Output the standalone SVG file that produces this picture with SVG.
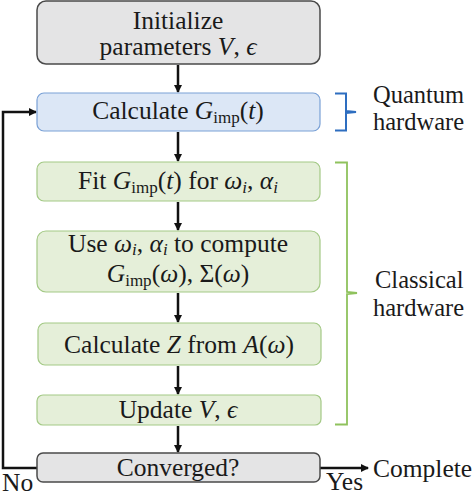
<svg xmlns="http://www.w3.org/2000/svg" width="474" height="496" viewBox="0 0 474 496">
<style>
text{font-family:"Liberation Serif","Times New Roman",Tinos,"Nimbus Roman","DejaVu Serif",serif;font-size:25.5px;fill:#1a1a1a}
.c{text-anchor:middle}
.i{font-style:italic}
.s{font-size:17px}
.side{font-size:24.5px}
.gray{fill:#e4e4e5;stroke:#4a4a4a;stroke-width:1.5}
.blue{fill:#dce7f6;stroke:#7aa1d6;stroke-width:1.2}
.green{fill:#e5efd9;stroke:#a3c985;stroke-width:1.2}
.conn{fill:none;stroke:#111;stroke-width:2.5}
</style>
<defs>
<marker id="ah" markerWidth="8" markerHeight="8" refX="7" refY="4" orient="auto" markerUnits="userSpaceOnUse">
<path d="M0,0 L8,4 L0,8 Z" fill="#111"/>
</marker>
</defs>
<g id="connectors">
<line class="conn" x1="178" y1="65" x2="178" y2="92" marker-end="url(#ah)"/>
<line class="conn" x1="178" y1="132" x2="178" y2="161" marker-end="url(#ah)"/>
<line class="conn" x1="178" y1="202" x2="178" y2="230" marker-end="url(#ah)"/>
<line class="conn" x1="178" y1="293" x2="178" y2="322" marker-end="url(#ah)"/>
<line class="conn" x1="178" y1="366" x2="178" y2="394" marker-end="url(#ah)"/>
<line class="conn" x1="178" y1="426" x2="178" y2="452" marker-end="url(#ah)"/>
<polyline class="conn" points="37,468 3,468 3,112 36,112" marker-end="url(#ah)"/>
<line class="conn" x1="320" y1="468" x2="368" y2="468" marker-end="url(#ah)"/>
</g>
<g id="init">
<rect class="gray" x="37" y="1" width="283" height="63" rx="9"/>
<text class="c" x="178" y="29">Initialize</text>
<text class="c" x="178" y="55">parameters <tspan class="i">V</tspan>, <tspan class="i">ϵ</tspan></text>
</g>
<g id="calcG">
<rect class="blue" x="37" y="93" width="283" height="38" rx="7"/>
<text class="c" x="178" y="119">Calculate <tspan class="i">G</tspan><tspan class="s" dy="4">imp</tspan><tspan dy="-4">(</tspan><tspan class="i">t</tspan>)</text>
</g>
<g id="fit">
<rect class="green" x="37" y="162" width="283" height="39" rx="7"/>
<text class="c" x="178" y="189">Fit <tspan class="i">G</tspan><tspan class="s" dy="4">imp</tspan><tspan dy="-4">(</tspan><tspan class="i">t</tspan>) for <tspan class="i">ω</tspan><tspan class="s i" dy="4">i</tspan><tspan dy="-4">, </tspan><tspan class="i">α</tspan><tspan class="s i" dy="4">i</tspan></text>
</g>
<g id="use">
<rect class="green" x="37" y="231" width="283" height="61" rx="9"/>
<text class="c" x="178" y="252">Use <tspan class="i">ω</tspan><tspan class="s i" dy="3">i</tspan><tspan dy="-3">, </tspan><tspan class="i">α</tspan><tspan class="s i" dy="3">i</tspan><tspan dy="-3"> to compute</tspan></text>
<text class="c" x="178" y="282"><tspan class="i">G</tspan><tspan class="s" dy="4">imp</tspan><tspan dy="-4">(</tspan><tspan class="i">ω</tspan>), Σ(<tspan class="i">ω</tspan>)</text>
</g>
<g id="calcZ">
<rect class="green" x="38" y="323" width="283" height="42" rx="7"/>
<text class="c" x="179" y="353">Calculate <tspan class="i">Z</tspan> from <tspan class="i">A</tspan>(<tspan class="i">ω</tspan>)</text>
</g>
<g id="update">
<rect class="green" x="37" y="395" width="284" height="30" rx="6"/>
<text class="c" x="178" y="418">Update <tspan class="i">V</tspan>, <tspan class="i">ϵ</tspan></text>
</g>
<g id="converged">
<rect class="gray" x="37" y="453" width="283" height="29" rx="6"/>
<text class="c" x="178" y="476">Converged?</text>
</g>
<g id="quantum">
<path d="M335,93.5 H346 V111 L356,112 L346,113 V130.5 H335" fill="none" stroke="#2e6ec0" stroke-width="2"/>
<text class="side" x="373" y="103">Quantum</text>
<text class="side" x="373" y="130">hardware</text>
</g>
<g id="classical">
<path d="M335,162.5 H347 V292 L357,293 L347,294 V424.5 H335" fill="none" stroke="#8fc25d" stroke-width="1.8"/>
<text class="side" x="375" y="288">Classical</text>
<text class="side" x="373" y="316">hardware</text>
</g>
<g id="labels">
<text x="2" y="491">No</text>
<text x="326" y="490">Yes</text>
<text x="373" y="477">Complete</text>
</g>
</svg>
